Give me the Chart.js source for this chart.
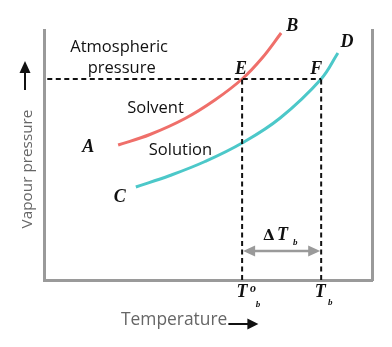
<!DOCTYPE html>
<html>
<head>
<meta charset="utf-8">
<script src="https://cdn.jsdelivr.net/npm/chart.js@4.4.0/dist/chart.umd.min.js"></script>
<style>
  html, body { margin: 0; padding: 0; background: #fff; }
  canvas { display: block; }
</style>
</head>
<body>
<canvas id="bpChart" width="392" height="347"></canvas>
<script>
// Vapour pressure of solvent and solution vs temperature (arbitrary units 0-100)
const solventT  = [22.6, 32.3, 43.0, 52.1, 60.4, 66.5, 72.3];
const solventP  = [54.0, 58.2, 64.6, 72.0, 80.4, 88.8, 98.8];
const solutionT = [28.0, 38.4, 49.1, 60.4, 72.0, 84.5, 89.6];
const solutionP = [37.2, 41.8, 47.4, 54.8, 64.8, 80.4, 90.8];
const atmPressure = 80.4;
const boilT = [60.4, 84.5];   // T°b of solvent, Tb of solution
const deltaLevel = 11.6;      // height of the ΔTb arrow

const RED = '#ef6f6a';
const CYAN = '#4cc8c9';
const AXIS = '#9a9a9a';

function toPoints(xs, ys) {
    return xs.map((v, i) => ({x: v, y: ys[i]}));
}

const dashed = {
    borderColor: '#111',
    borderWidth: 2,
    borderDash: [5, 3.5],
    pointRadius: 0,
    showLine: true,
    fill: false
};

const datasets = [
    Object.assign({data: [{x: 1, y: atmPressure}, {x: boilT[1], y: atmPressure}]}, dashed),
    Object.assign({data: [{x: boilT[0], y: 0}, {x: boilT[0], y: atmPressure}]}, dashed),
    Object.assign({data: [{x: boilT[1], y: 0}, {x: boilT[1], y: atmPressure}]}, dashed),
    {
        data: toPoints(solventT, solventP),
        borderColor: RED, borderWidth: 3, pointRadius: 0,
        showLine: true, tension: 0.4
    },
    {
        data: toPoints(solutionT, solutionP),
        borderColor: CYAN, borderWidth: 3, pointRadius: 0,
        showLine: true, tension: 0.4
    },
    {
        data: [{x: boilT[0] + 1.5, y: deltaLevel}, {x: boilT[1] - 1.5, y: deltaLevel}],
        borderColor: AXIS, borderWidth: 2.5, pointRadius: 0, showLine: true
    }
];

function arrowHead(ctx, tipX, tipY, dir, len, half, color) {
    // dir: 'up', 'right', 'left'
    ctx.fillStyle = color;
    ctx.beginPath();
    if (dir === 'up') {
        ctx.moveTo(tipX, tipY);
        ctx.lineTo(tipX - half, tipY + len);
        ctx.lineTo(tipX + half, tipY + len);
    } else if (dir === 'right') {
        ctx.moveTo(tipX, tipY);
        ctx.lineTo(tipX - len, tipY - half);
        ctx.lineTo(tipX - len, tipY + half);
    } else {
        ctx.moveTo(tipX, tipY);
        ctx.lineTo(tipX + len, tipY - half);
        ctx.lineTo(tipX + len, tipY + half);
    }
    ctx.closePath();
    ctx.fill();
}

const textPlugin = {
    id: 'diagramText',
    afterDraw(chart) {
        const {ctx, chartArea} = chart;
        const xs = chart.scales.x, ys = chart.scales.y;
        const px = v => xs.getPixelForValue(v);
        const py = v => ys.getPixelForValue(v);
        ctx.save();

        // plain labels
        ctx.fillStyle = '#111';
        ctx.textAlign = 'center';
        ctx.textBaseline = 'alphabetic';
        ctx.font = '16.5px "Open Sans"';
        ctx.fillText('Atmospheric', px(22.9), py(91.3));
        ctx.fillText('pressure', px(23.7), py(83.0));
        ctx.fillText('Solvent', px(34.0), py(66.9));
        ctx.fillText('Solution', px(41.6), py(50.0));

        // point letters
        ctx.font = 'italic bold 18px "Liberation Serif"';
        const sN = solventT.length - 1, cN = solutionT.length - 1;
        ctx.fillText('A', px(solventT[0]) - 30, py(solventP[0]) + 7);
        ctx.fillText('B', px(solventT[sN]) + 11, py(solventP[sN]) - 2);
        ctx.fillText('C', px(solutionT[0]) - 16, py(solutionP[0]) + 15);
        ctx.fillText('D', px(solutionT[cN]) + 9, py(solutionP[cN]) - 6);
        ctx.fillText('E', px(boilT[0]) - 1, py(atmPressure) - 5);
        ctx.fillText('F', px(boilT[1]) - 5, py(atmPressure) - 5);

        // T°b and Tb under the axis
        const tY = chartArea.bottom + 17;
        ctx.fillText('T', px(boilT[0]), tY);
        ctx.fillText('T', px(boilT[1]) - 1, tY);
        ctx.font = 'italic bold 12px "Liberation Serif"';
        ctx.fillText('o', px(boilT[0]) + 11, tY - 5);
        ctx.font = 'italic bold 9px "Liberation Serif"';
        ctx.fillText('b', px(boilT[0]) + 16, tY + 10);
        ctx.fillText('b', px(boilT[1]) + 9, tY + 8);

        // ΔTb
        const dY = py(deltaLevel) - 11;
        ctx.textAlign = 'left';
        ctx.font = 'bold 15px "DejaVu Serif"';
        ctx.fillText('\u0394', px(boilT[0]) + 21, dY);
        ctx.font = 'italic bold 18px "Liberation Serif"';
        ctx.fillText('T', px(boilT[0]) + 35, dY);
        ctx.font = 'italic bold 9px "Liberation Serif"';
        ctx.fillText('b', px(boilT[0]) + 51, dY + 5);

        // ΔTb arrow heads
        arrowHead(ctx, px(boilT[0]) + 1, py(deltaLevel), 'left', 12, 5.5, AXIS);
        arrowHead(ctx, px(boilT[1]) - 1, py(deltaLevel), 'right', 12, 5.5, AXIS);

        // axis titles
        ctx.fillStyle = '#666';
        ctx.font = '17.4px "Open Sans"';
        ctx.textAlign = 'left';
        const tempX = chartArea.left + 77;
        const tempBase = chartArea.bottom + 45;
        ctx.fillText('Temperature', tempX, tempBase);
        const tempEnd = tempX + ctx.measureText('Temperature').width;
        ctx.save();
        ctx.translate(chartArea.left - 12.5, chartArea.top + 139);
        ctx.rotate(-Math.PI / 2);
        ctx.textAlign = 'center';
        ctx.font = '15.3px "Open Sans"';
        ctx.fillText('Vapour pressure', 0, 0);
        ctx.restore();

        // black arrows on axis titles
        ctx.strokeStyle = '#111';
        ctx.lineWidth = 2;
        ctx.beginPath();
        ctx.moveTo(tempEnd + 1, tempBase - 1);
        ctx.lineTo(tempEnd + 22, tempBase - 1);
        ctx.moveTo(chartArea.left - 19, chartArea.top + 60);
        ctx.lineTo(chartArea.left - 19, chartArea.top + 40);
        ctx.stroke();
        arrowHead(ctx, tempEnd + 31, tempBase - 1, 'right', 11, 5.5, '#111');
        arrowHead(ctx, chartArea.left - 19, chartArea.top + 31, 'up', 12, 5.5, '#111');

        ctx.restore();
    }
};

const hiddenScale = {
    type: 'linear',
    min: 0,
    max: 100,
    ticks: {display: false},
    grid: {display: false, drawTicks: false},
    border: {display: true, color: AXIS, width: 3}
};

new Chart(document.getElementById('bpChart').getContext('2d'), {
    type: 'scatter',
    data: {datasets: datasets},
    options: {
        responsive: false,
        animation: false,
        layout: {padding: {left: 44, right: 20, top: 30, bottom: 67}},
        plugins: {legend: {display: false}, tooltip: {enabled: false}},
        scales: {
            x: Object.assign({position: 'bottom'}, hiddenScale),
            y: Object.assign({position: 'left'}, hiddenScale),
            y2: Object.assign({position: 'right'}, hiddenScale)
        }
    },
    plugins: [textPlugin]
});
</script>
</body>
</html>
